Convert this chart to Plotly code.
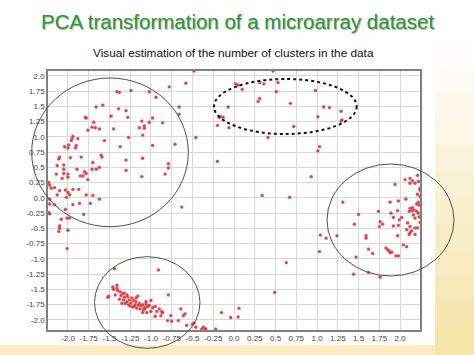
import plotly.graph_objects as go

# ---------------- data ----------------
upper_left_x = [-0.58, -0.78, -1.41, -1.38, -1.24, -1.02, -0.94, -0.66, -0.66, -1.66, -1.58, -1.39, -1.30, -1.28,
                -1.48, -1.79, -1.78, -1.69, -1.76, -1.71, -1.67, -1.62, -1.45, -1.11, -1.14, -1.08, -1.08, -1.02,
                -0.98, -0.86, -1.10, -1.27, -1.56, -1.37, -0.98, -0.71, -1.88, -1.94, -1.95, -1.96, -1.99, -2.04,
                -1.90, -1.91, -2.00, -2.10, -2.11, -1.97, -1.84, -1.70, -1.60, -1.59, -1.30, -1.10, -2.13, -2.05,
                -2.05, -2.14, -2.00, -1.89, -1.85, -1.82, -1.80, -1.78, -1.71, -1.66, -1.62, -1.30, -1.11, -0.79,
                -0.79, -0.83, -0.46, -0.48, -2.05, -2.00, -2.07, -1.76]
upper_left_y = [1.88, 1.82, 1.74, 1.73, 1.76, 1.74, 1.65, 1.49, 1.37, 1.49, 1.52, 1.46, 1.43, 1.32,
                1.34, 1.32, 1.31, 1.24, 1.11, 1.16, 1.15, 1.13, 1.13, 1.26, 1.15, 1.18, 1.14, 1.24,
                1.31, 1.23, 1.03, 0.99, 0.94, 0.84, 0.86, 0.88, 0.97, 1.01, 0.97, 0.94, 0.87, 0.84,
                0.86, 0.82, 0.82, 0.67, 0.64, 0.66, 0.67, 0.58, 0.70, 0.67, 0.62, 0.65, 0.53, 0.54,
                0.47, 0.39, 0.39, 0.47, 0.36, 0.36, 0.43, 0.40, 0.47, 0.47, 0.50, 0.45, 0.35, 0.56,
                0.49, 0.39, 0.99, 2.08, 0.40, 0.34, 0.32, 0.30]

left_edge_x = [-2.23, -2.22, -2.20, -2.16, -2.10, -2.03, -2.00, -1.98, -2.02, -2.13, -1.94, -1.87, -1.78, -1.70,
               -1.62, -2.22, -2.22, -2.16, -1.94, -1.86, -1.73, -2.03, -2.23, -2.22, -2.01, -1.98, -1.81, -2.08,
               -2.10, -2.10, -2.11, -2.00, -2.01, -0.63]
left_edge_y = [0.25, 0.21, 0.16, 0.17, 0.12, 0.13, 0.09, 0.05, 0.01, 0.05, 0.14, 0.14, 0.05, 0.04,
               -0.02, -0.02, -0.10, -0.11, -0.11, -0.09, -0.09, -0.19, -0.24, -0.26, -0.33, -0.33, -0.27, -0.35,
               -0.46, -0.50, -0.55, -0.53, -0.83, -0.15]

lower_left_x = [-1.44, -1.41, -1.46, -1.41, -1.51, -1.52, -1.43, -1.37, -1.34, -1.32, -1.29, -1.32, -1.38, -1.35,
                -1.31, -1.26, -1.23, -1.24, -1.21, -1.16, -1.19, -1.22, -1.25, -1.14, -1.12, -1.10, -1.17, -1.13,
                -1.09, -1.07, -1.04, -1.00, -1.06, -1.10, -1.05, -0.95, -0.90, -0.93, -0.87, -0.95, -0.88, -0.86,
                -0.79, -0.76, -0.80, -0.75, -0.64, -0.59, -0.61, -0.67, -0.57, -0.50, -0.46, -0.39, -0.35, -0.91,
                -1.33, -1.29, -1.45, -1.28, -1.18, -1.02, -0.98, -1.40, -1.36, -1.27, -1.20, -1.15, -1.08, -1.00,
                -1.06, -1.18]
lower_left_y = [-1.16, -1.43, -1.46, -1.48, -1.61, -1.63, -1.59, -1.54, -1.57, -1.56, -1.59, -1.63, -1.66, -1.73,
                -1.73, -1.67, -1.64, -1.72, -1.68, -1.61, -1.75, -1.79, -1.77, -1.73, -1.77, -1.75, -1.81, -1.82,
                -1.84, -1.81, -1.78, -1.68, -1.74, -1.88, -1.88, -1.78, -1.82, -1.86, -1.86, -1.94, -1.93, -1.88,
                -1.59, -1.93, -2.01, -2.02, -1.82, -1.90, -1.93, -2.01, -2.09, -2.07, -2.12, -2.15, -2.14, -1.18,
                -1.67, -1.70, -1.50, -1.62, -1.70, -1.76, -1.80, -1.52, -1.60, -1.75, -1.78, -1.76, -1.80, -1.86,
                -1.70, -1.64]

top_middle_x = [0.47, 0.02, 0.05, 0.10, 0.31, 0.36, 0.53, 0.51, 0.98, 0.31, 0.29, 0.68, -0.07, 1.08,
                1.15, 1.29, 1.01, 1.29, 1.30, -0.18, -0.16, -0.13, -0.20, -0.06, 0.72, 0.41]
top_middle_y = [2.08, 1.87, 1.85, 1.78, 1.89, 1.87, 1.89, 1.74, 1.76, 1.63, 1.58, 1.55, 1.49, 1.49,
                1.48, 1.42, 1.33, 1.26, 1.28, 1.32, 1.33, 1.32, 1.19, 1.15, 1.17, 0.99]

scattered_x = [-0.20, 1.03, 1.01, 0.93, 0.34, 0.67, 1.04, 1.11, 1.03, 0.63, 0.49, 0.06, -0.15, 0.05,
               -0.04, -0.22, -0.37, -0.34, -0.48, 1.24]
scattered_y = [0.60, 0.84, 0.77, 0.35, 0.04, 0.01, -0.61, -0.66, -0.88, -1.06, -1.55, -1.81, -1.88, -1.95,
               -1.96, -2.15, -2.12, -2.15, -2.05, -0.62]

right_x = [1.94, 2.06, 2.12, 2.15, 2.21, 2.22, 2.18, 2.12, 2.24, 2.21, 2.24, 2.07, 1.98, 1.88,
           1.31, 2.22, 2.12, 2.15, 2.17, 2.14, 2.11, 2.20, 2.22, 2.16, 2.18, 2.23, 1.97, 1.89,
           1.92, 1.99, 2.02, 1.74, 1.50, 1.76, 1.79, 1.75, 1.45, 1.92, 2.09, 2.12, 2.18, 2.21,
           2.08, 2.14, 2.12, 2.11, 2.18, 1.97, 1.59, 1.59, 2.04, 2.08, 1.62, 1.67, 1.83, 1.85,
           1.87, 1.90, 1.88, 1.95, 1.98, 1.47, 1.44, 1.76, 1.62, 1.98, 2.24, 2.23, 2.20, 2.24]
right_y = [0.22, 0.30, 0.32, 0.28, 0.37, 0.27, 0.24, 0.24, 0.16, 0.06, 0.02, -0.02, -0.05, -0.07,
           -0.07, -0.07, -0.17, -0.16, -0.20, -0.21, -0.22, -0.22, -0.25, -0.28, -0.33, -0.31, -0.21, -0.25,
           -0.32, -0.36, -0.32, -0.22, -0.27, -0.39, -0.43, -0.47, -0.43, -0.46, -0.41, -0.47, -0.49, -0.49,
           -0.52, -0.54, -0.57, -0.60, -0.60, -0.62, -0.62, -0.66, -0.77, -0.80, -0.84, -0.91, -0.82, -0.85,
           -0.87, -0.89, -0.90, -0.95, -0.95, -0.97, -1.25, -1.30, -1.22, -0.45, 0.13, -0.12, -0.10, -0.40]

tick_values = [-2.0, -1.75, -1.5, -1.25, -1.0, -0.75, -0.5, -0.25, 0.0, 0.25, 0.5, 0.75, 1.0, 1.25, 1.5, 1.75, 2.0]
tick_labels = ["-2.0", "-1.75", "-1.5", "-1.25", "-1.0", "-0.75", "-0.5", "-0.25", "0.0",
               "0.25", "0.5", "0.75", "1.0", "1.25", "1.5", "1.75", "2.0"]

title_text = "PCA transformation of a microarray dataset"
subtitle_text = "Visual estimation of the number of clusters in the data"

# ---------------- figure ----------------
W, H = 474, 355
L, R, T, B = 48, 420, 71, 330  # plot area in pixels


def fx(px):
    return (px - L) / (R - L)


def fy(py):
    return (B - py) / (B - T)


fig = go.Figure()
groups = [(upper_left_x, upper_left_y), (left_edge_x, left_edge_y), (lower_left_x, lower_left_y),
          (top_middle_x, top_middle_y), (scattered_x, scattered_y), (right_x, right_y)]
for gx, gy in groups:
    fig.add_trace(go.Scatter(
        x=gx, y=gy, mode="markers", cliponaxis=False, showlegend=False, hoverinfo="skip",
        marker=dict(size=3.3, color="rgba(215,35,45,0.85)", symbol="circle",
                    line=dict(width=0.5, color="rgba(240,140,150,0.5)"))))

axis_common = dict(
    tickvals=tick_values, ticktext=tick_labels, showgrid=True, gridcolor="#d8d8d8", gridwidth=1,
    showline=True, linecolor="#808080", linewidth=1.5, mirror=True, zeroline=False, ticks="",
    tickfont=dict(family="Liberation Sans, Arial, sans-serif", size=8, color="#444444"),
)
fig.update_xaxes(range=[-2.24, 2.24], **axis_common)
fig.update_yaxes(range=[-2.165, 2.08], **axis_common)

shapes = []
# slide background gradient (right strip and bottom strip)
n = 12
top_py, bot_py = 40, H
for i in range(n):
    t = (i + 0.5) / n
    r = int(255 + (245 - 255) * t)
    g = int(255 + (228 - 255) * t)
    b = int(255 + (165 - 255) * t)
    y0 = top_py + (bot_py - top_py) * i / n
    y1 = top_py + (bot_py - top_py) * (i + 1) / n
    shapes.append(dict(type="rect", xref="paper", yref="paper", layer="below",
                       x0=fx(435), x1=fx(W + 2), y0=fy(y1 + 0.5), y1=fy(y0),
                       fillcolor=f"rgb({r},{g},{b})", line=dict(width=0)))
shapes.append(dict(type="rect", xref="paper", yref="paper", layer="below",
                   x0=fx(-2), x1=fx(435), y0=fy(H + 2), y1=fy(345),
                   fillcolor="#f8ebc0", line=dict(width=0)))

# cluster ellipses
ell = dict(type="circle", xref="paper", yref="paper", layer="above")
shapes.append(dict(ell, x0=fx(31.7), x1=fx(188.3), y0=fy(226.7), y1=fy(78),
                   line=dict(color="#505050", width=1)))
shapes.append(dict(ell, x0=fx(94.5), x1=fx(200), y0=fy(348.3), y1=fy(256.7),
                   line=dict(color="#505050", width=1)))
shapes.append(dict(ell, x0=fx(214), x1=fx(356.7), y0=fy(134), y1=fy(79),
                   line=dict(color="#111111", width=2, dash="dot")))
shapes.append(dict(ell, x0=fx(327), x1=fx(454), y0=fy(276), y1=fy(164),
                   line=dict(color="#505050", width=1)))

annotations = [
    dict(text=title_text, xref="paper", yref="paper", x=fx(237.5), y=fy(22), xanchor="center",
         yanchor="middle", showarrow=False,
         font=dict(family="Liberation Sans, Arial, sans-serif", size=20.5, color="#30913a",
                   shadow="1px 1px 1px rgba(0,60,0,0.35)")),
    dict(text=subtitle_text, xref="paper", yref="paper", x=fx(233), y=fy(53), xanchor="center",
         yanchor="middle", showarrow=False,
         font=dict(family="Liberation Sans, Arial, sans-serif", size=11.8, color="#111111")),
]

fig.update_layout(
    width=W, height=H, margin=dict(l=L, r=W - R, t=T, b=H - B, pad=0),
    paper_bgcolor="white", plot_bgcolor="white",
    shapes=shapes, annotations=annotations, showlegend=False,
)

fig.write_html("out.html", config={"displayModeBar": False},
               post_script="document.body.style.margin='0';document.body.style.overflow='hidden';")
